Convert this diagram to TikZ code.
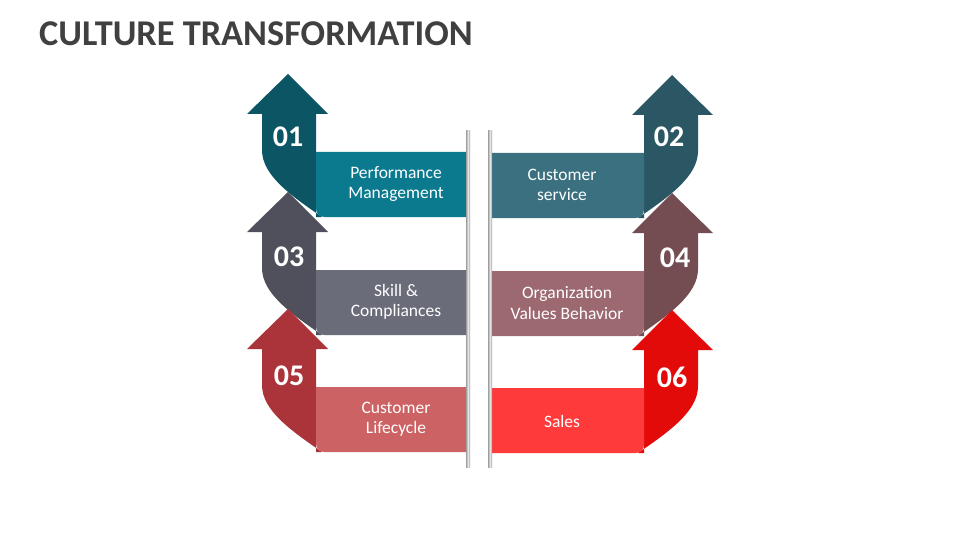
\documentclass[tikz,border=0pt]{standalone}
\usepackage{fontspec}
\setmainfont{Carlito}
\definecolor{titlegray}{HTML}{404040}
\definecolor{arA}{HTML}{0B5565}\definecolor{bdA}{HTML}{0B7A8E}
\definecolor{arB}{HTML}{2B5663}\definecolor{bdB}{HTML}{3A7080}
\definecolor{arC}{HTML}{4F505B}\definecolor{bdC}{HTML}{6A6C79}
\definecolor{arD}{HTML}{744D53}\definecolor{bdD}{HTML}{9C6970}
\definecolor{arE}{HTML}{AA343A}\definecolor{bdE}{HTML}{CD6264}
\definecolor{arF}{HTML}{E30A0A}\definecolor{bdF}{HTML}{FF3A3A}
\newcommand{\cultshape}[2]{%
  \fill[#1] (288,74) -- (328,114) -- (316,114) -- (316,217) -- (322,217)
     .. controls (290,195) and (262,175) .. (262,150) -- (262,114) -- (247,114) -- cycle;
  \fill[#2] (469,152) -- (469,217) -- (325,217) .. controls (319,217) and (316,214) .. (316,208) -- (316,152) -- cycle;
}
\tikzset{
  bandtext/.style={text=white, font=\fontsize{17.5}{20.5}\selectfont, align=center},
  numtext/.style={text=white, font=\bfseries\fontsize{30}{30}\selectfont},
  sep/.style={left color=gray!75, right color=gray!75, middle color=gray!20}
}
\begin{document}
\begin{tikzpicture}[x=1pt,y=-1pt]
\useasboundingbox[fill=white] (0,0) rectangle (960,540);
\node[anchor=west, text=titlegray, font=\bfseries\fontsize{36.3}{36}\selectfont, inner sep=0pt] (title) at (39,34) {CULTURE TRANSFORMATION};
% left column
\begin{scope}\cultshape{arA}{bdA}\end{scope}
\begin{scope}[yshift=-118pt]\cultshape{arC}{bdC}\end{scope}
\begin{scope}[yshift=-235pt]\cultshape{arE}{bdE}\end{scope}
% right column
\begin{scope}[yshift=-1pt, xshift=960pt, xscale=-1]\cultshape{arB}{bdB}\end{scope}
\begin{scope}[yshift=-119pt, xshift=960pt, xscale=-1]\cultshape{arD}{bdD}\end{scope}
\begin{scope}[yshift=-236pt, xshift=960pt, xscale=-1]\cultshape{arF}{bdF}\end{scope}
% separators
\shade[sep] (466,131) rectangle (470,467);
\shade[sep] (488,131) rectangle (492,467);
% numbers
\node[numtext] (n1) at (288,137) {01};
\node[numtext] (n3) at (289,257) {03};
\node[numtext] (n5) at (289,376) {05};
\node[numtext] (n2) at (669,137) {02};
\node[numtext] (n4) at (675,258) {04};
\node[numtext] (n6) at (672,377) {06};
% band texts
\node[bandtext] (t1) at (396,184) {Performance\\Management};
\node[bandtext] (t3) at (396,302) {Skill \&\\Compliances};
\node[bandtext] (t5) at (396,419) {Customer\\Lifecycle};
\node[bandtext] (t2) at (562,185) {Customer\\service};
\node[bandtext] (t4) at (567,303) {Organization\\Values Behavior};
\node[bandtext] (t6) at (562,421) {Sales};
\end{tikzpicture}
\end{document}
